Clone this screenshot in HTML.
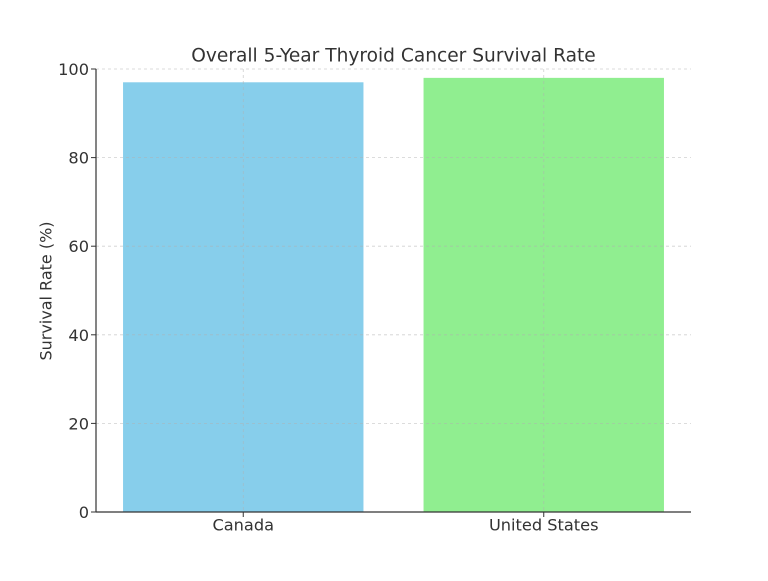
<!DOCTYPE html>
<html><head><meta charset="utf-8">
<style>
body{margin:0;background:#fff;}
svg text{font-family:"DejaVu Sans","Liberation Sans",sans-serif;fill:#333;}
</style></head>
<body>
<svg id="chart" width="768" height="576">
<text x="393.5" y="61.5" font-size="18.6" text-anchor="middle">Overall 5-Year Thyroid Cancer Survival Rate</text>
<text transform="translate(51.5,291) rotate(-90)" font-size="16" text-anchor="middle">Survival Rate (%)</text>
<g id="bars"></g><g id="grid"></g><g id="axes"></g>
</svg>
<script>
const categories = ["Canada", "United States"];
const values = [97, 98];
const colors = ["#87ceeb", "#90ee90"];
const yTicks = [0, 20, 40, 60, 80, 100];

const L=96,R=691,T=69,B=512;
const xMin=-0.49,xMax=1.49;
const x=v=>L+(v-xMin)/(xMax-xMin)*(R-L);
const y=v=>B-v/100*(B-T);
const NS="http://www.w3.org/2000/svg";
function mk(tag,attrs,parent){const e=document.createElementNS(NS,tag);for(const k in attrs)e.setAttribute(k,attrs[k]);parent.appendChild(e);return e;}
const bars=document.getElementById('bars'),grid=document.getElementById('grid'),axes=document.getElementById('axes');
categories.forEach((c,i)=>{
  const r=mk('rect',{x:x(i-0.4),y:y(values[i]),width:x(i+0.4)-x(i-0.4),height:B-y(values[i]),fill:colors[i]},bars);
  
  
  const g=mk('line',{x1:x(i),x2:x(i),y1:T,y2:B,stroke:'#b0b0b0','stroke-width':0.8,'stroke-dasharray':'3,3','stroke-opacity':0.6},grid);
  
  
  mk('line',{x1:x(i),x2:x(i),y1:B,y2:B+5,stroke:'#333','stroke-width':1},axes);
  const t=mk('text',{x:x(i),y:B+18.5,'font-size':16.2,'text-anchor':'middle'},axes);
  t.textContent=c;
  
  
});
yTicks.forEach(v=>{
  if(v>0){const g=mk('line',{x1:L,x2:R,y1:y(v),y2:y(v),stroke:'#b0b0b0','stroke-width':0.8,'stroke-dasharray':'3,3','stroke-opacity':0.6},grid);
  
  }
  mk('line',{x1:L-5,x2:L,y1:y(v),y2:y(v),stroke:'#333','stroke-width':1},axes);
  const t=mk('text',{x:L-7,y:y(v)+6,'font-size':16.2,'text-anchor':'end'},axes);
  t.textContent=v;
  
  
});
const la=mk('line',{x1:L,x2:L,y1:T,y2:B,stroke:'#333','stroke-width':1.2},axes);


const ba=mk('line',{x1:L,x2:R,y1:B,y2:B,stroke:'#333','stroke-width':1.2},axes);


</script>
</body></html>
